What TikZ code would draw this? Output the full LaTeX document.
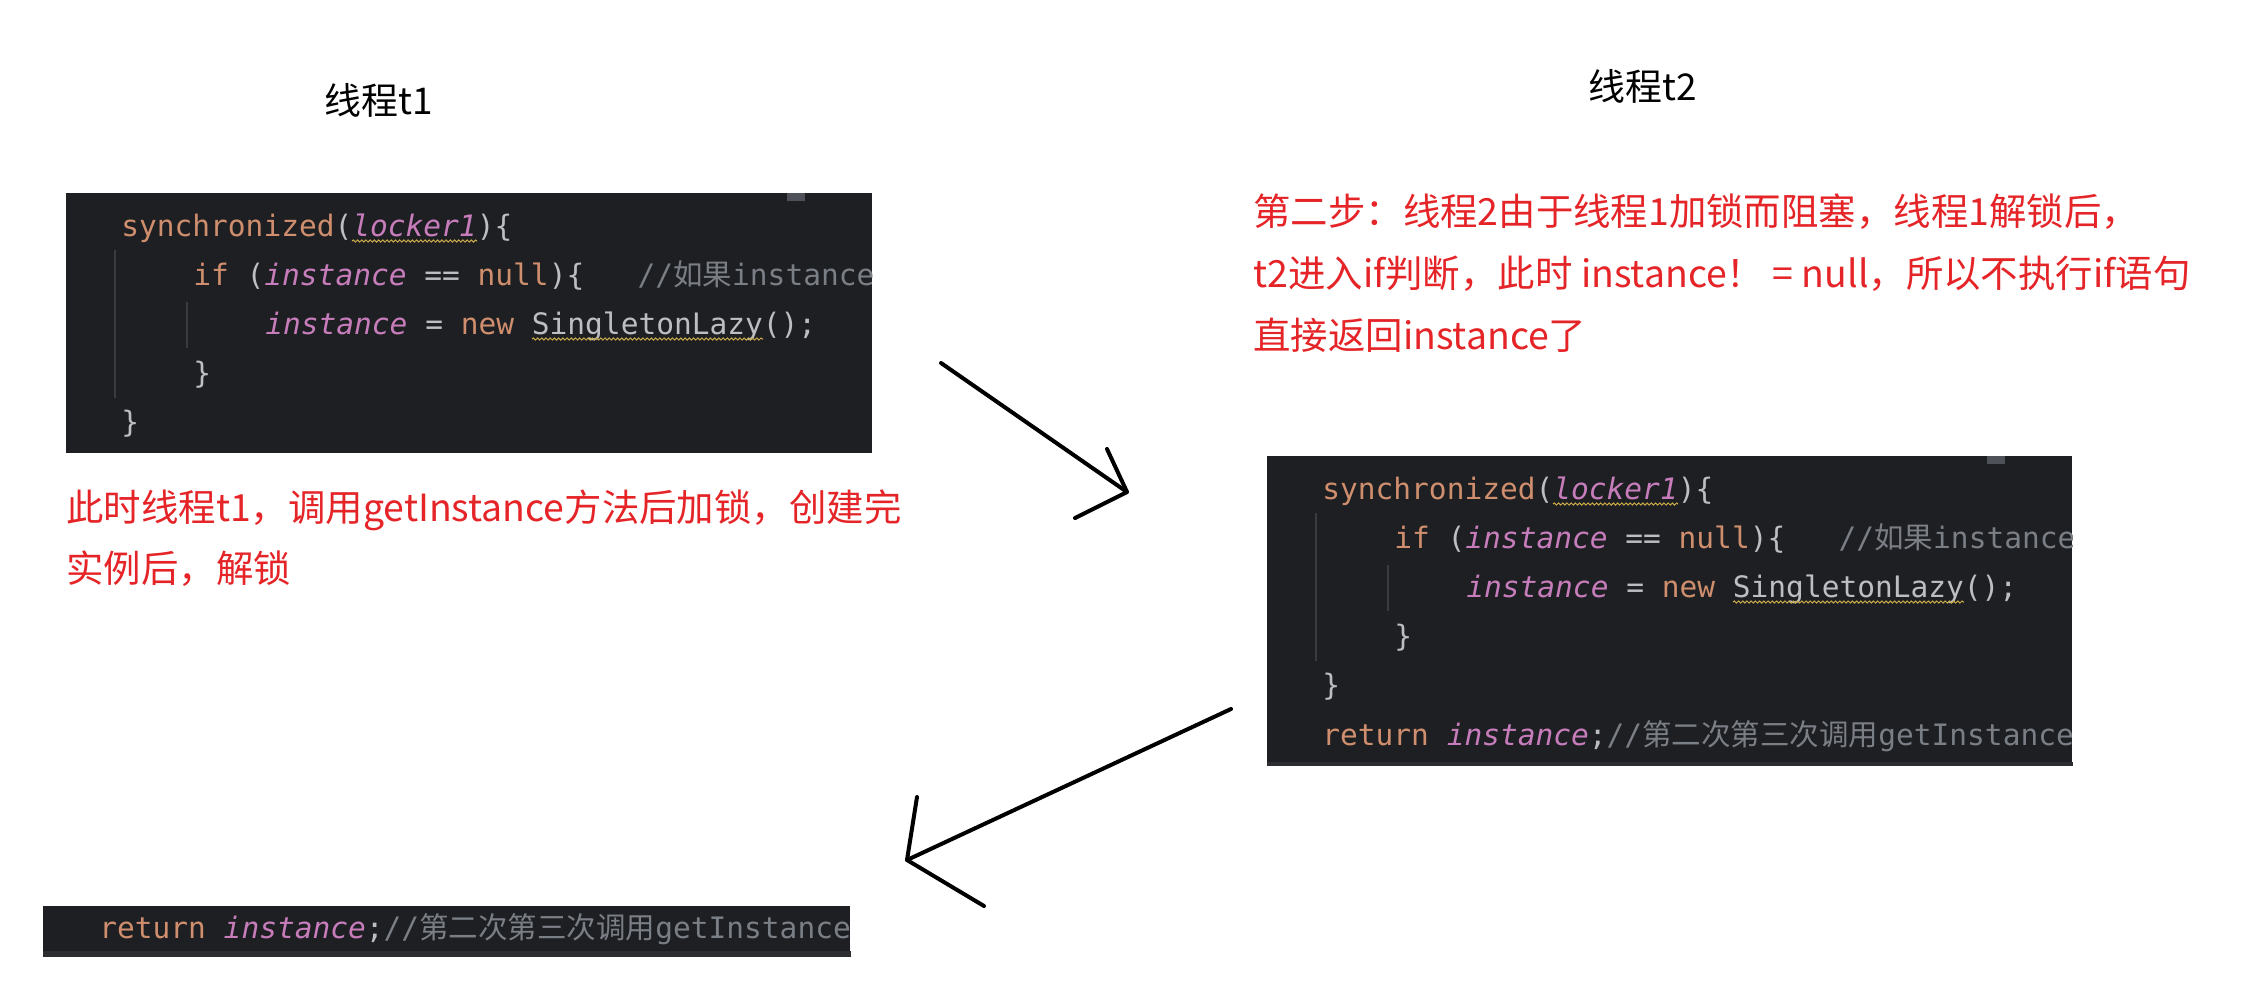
\documentclass[tikz,border=0pt]{standalone}
\usepackage{fontspec}
\setmainfont{Noto Sans CJK SC}
\setmonofont{DejaVu Sans Mono}
\newfontfamily\cjkfont{Noto Sans CJK SC}
\usepackage{xcolor}
\usetikzlibrary{calc,decorations.pathmorphing}

\definecolor{codebg}{HTML}{1E1F22}
\definecolor{codestrip}{HTML}{2B2D30}
\definecolor{scrollmark}{HTML}{4E5157}
\definecolor{guidecol}{HTML}{393B40}
\definecolor{plaincol}{HTML}{BCBEC4}
\definecolor{kwcol}{HTML}{CF8E6D}
\definecolor{varcol}{HTML}{C77DBB}
\definecolor{cmtcol}{HTML}{7A7E85}
\definecolor{warncol}{HTML}{C9A94A}
\definecolor{notered}{RGB}{229,36,40}

\newcommand\kw[1]{\textcolor{kwcol}{#1}}
\newcommand\ivar[1]{\textcolor{varcol}{\itshape #1}}
\newcommand\cmt[1]{\textcolor{cmtcol}{#1}}

\begin{document}
\begin{tikzpicture}[
  x=0.02cm, y=-0.02cm,
  codebox/.style={rectangle, fill=codebg, inner sep=0pt, anchor=north west},
  codeline/.style={anchor=base west, inner sep=0pt, text=plaincol,
    font=\ttfamily\fontsize{16.8pt}{20pt}\selectfont},
  note/.style={anchor=base west, inner sep=0pt, text=notered,
    font=\fontsize{21.3pt}{25pt}\selectfont},
  title/.style={anchor=base west, inner sep=0pt, text=black,
    font=\fontsize{21pt}{25pt}\selectfont},
  guide/.style={guidecol, line width=0.04cm},
  wavy/.style={warncol, line width=0.02cm, decorate,
    decoration={snake, amplitude=0.6pt, segment length=2.4pt}},
  hand/.style={line width=0.08cm, line cap=round, line join=round}
]
\useasboundingbox (0,0) rectangle (2254,998);

\node[title] (t1) at (324,114) {线程t1};
\node[title] (t2) at (1588,100) {线程t2};

% thread 1
\node[codebox, minimum width=16.12cm, minimum height=5.2cm] (box1) at (66,193) {};
\fill[scrollmark] ($(box1.north east)+(-86,0)$) rectangle ($(box1.north east)+(-68,8)$);
\draw[guide] (115,250) -- (115,398);
\draw[guide] (187,302) -- (187,348);
\begin{scope}
  \clip (box1.south west) rectangle (box1.north east);
  \node[codeline] (b1l1) at (121,236) {\kw{synchronized}(\ivar{locker1})\{};
  \node[codeline] (b1l2) at (193,285) {\kw{if} (\ivar{instance} == \kw{null})\{~~~\cmt{//{\cjkfont 如果}instance}};
  \node[codeline] (b1l3) at (265,334) {\ivar{instance} = \kw{new} SingletonLazy();};
  \node[codeline] (b1l4) at (193,383) {\}};
  \node[codeline] (b1l5) at (121,432) {\}};
\end{scope}
\draw[wavy] (352,241) -- (477,241);
\draw[wavy] (532,339) -- (763,339);

\node[note] (n1a) at (66,521) {此时线程t1，调用getInstance方法后加锁，创建完};
\node[note] (n1b) at (66,582) {实例后，解锁};

% thread 2
\node[note] (n2a) at (1253,225) {第二步：线程2由于线程1加锁而阻塞，线程1解锁后，};
\node[note] (n2b) at (1253,287) {t2进入if判断，此时 instance！ = null，所以不执行if语句};
\node[note] (n2c) at (1253,349) {直接返回instance了};

\node[codebox, minimum width=16.1cm, minimum height=6.18cm] (box2) at (1267,456) {};
\fill[scrollmark] ($(box2.north east)+(-86,0)$) rectangle ($(box2.north east)+(-68,8)$);
\fill[codestrip] ($(box2.south west)+(0,-4)$) rectangle (box2.south east);
\draw[guide] (1316,513) -- (1316,661);
\draw[guide] (1388,565) -- (1388,611);
\begin{scope}
  \clip (box2.south west) rectangle (box2.north east);
  \node[codeline] (b2l1) at (1322,499) {\kw{synchronized}(\ivar{locker1})\{};
  \node[codeline] (b2l2) at (1394,548) {\kw{if} (\ivar{instance} == \kw{null})\{~~~\cmt{//{\cjkfont 如果}instance}};
  \node[codeline] (b2l3) at (1466,597) {\ivar{instance} = \kw{new} SingletonLazy();};
  \node[codeline] (b2l4) at (1394,646) {\}};
  \node[codeline] (b2l5) at (1322,695) {\}};
  \node[codeline] (b2l6) at (1322,745) {\kw{return} \ivar{instance};\cmt{//{\cjkfont 第二次第三次调用}getInstance}};
\end{scope}
\draw[wavy] (1553,504) -- (1678,504);
\draw[wavy] (1733,602) -- (1964,602);

% result
\node[codebox, minimum width=16.14cm, minimum height=1cm] (box3) at (43,906) {};
\fill[codestrip] ($(box3.south west)+(0,-6)$) rectangle (box3.south east);
\begin{scope}
  \clip (box3.south west) rectangle (box3.north east);
  \node[codeline] (b3l1) at (99,938) {\kw{return} \ivar{instance};\cmt{//{\cjkfont 第二次第三次调用}getInstance}};
\end{scope}

% hand-drawn arrows
\coordinate (a1s) at (941,363);
\coordinate (a1t) at (1127,492);
\coordinate (a1u) at (1107,449);
\coordinate (a1d) at (1075,518);
\draw[hand] (a1s) -- (a1t);
\draw[hand] (a1u) -- (a1t) -- (a1d);

\coordinate (a2s) at (1231,709);
\coordinate (a2t) at (907,860);
\coordinate (a2u) at (917,797);
\coordinate (a2d) at (984,906);
\draw[hand] (a2s) -- (a2t);
\draw[hand] (a2u) -- (a2t) -- (a2d);
\end{tikzpicture}
\end{document}
